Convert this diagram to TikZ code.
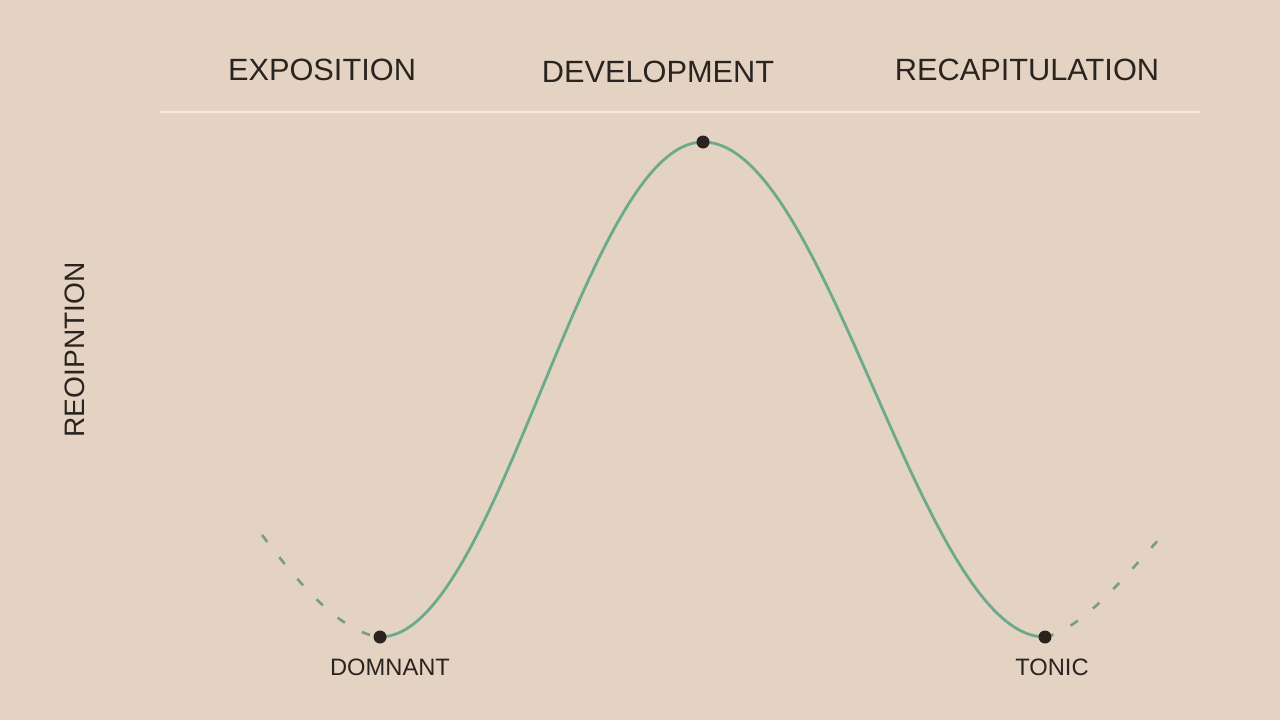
\documentclass[tikz,border=0pt]{standalone}
\usepackage{fontspec}
\setmainfont{Liberation Sans}
\definecolor{paper}{HTML}{E4D3C3}
\definecolor{ink}{HTML}{2A2420}
\definecolor{arc}{HTML}{6CAA8C}
\definecolor{tailgreen}{HTML}{7C9C8A}
\definecolor{rulecol}{HTML}{F6EAD8}

\begin{document}
\begin{tikzpicture}[x=0.02cm,y=-0.02cm,
	section/.style={text=ink,font=\fontsize{17.5}{20}\selectfont},
	side/.style={text=ink,font=\fontsize{16}{19}\selectfont,rotate=90},
	key/.style={text=ink,font=\fontsize{13.5}{16}\selectfont},
	dot/.style={circle,fill=ink,inner sep=0pt,minimum size=0.26cm},
	curve/.style={arc,line width=1.6pt},
	tail/.style={tailgreen,line width=1.5pt,dash pattern=on 5pt off 11pt}]
	\fill[paper] (0,0) rectangle (1280,720);
	\useasboundingbox (0,0) rectangle (1280,720);
	% section headings
	\node [section] (expo) at (322,70) {EXPOSITION};
	\node [section] (devel) at (658,72) {DEVELOPMENT};
	\node [section] (recap) at (1027,70) {RECAPITULATION};
	\coordinate (ruleL) at (160,112);
	\coordinate (ruleR) at (1200,112);
	\draw [rulecol, line width=1.7pt] (ruleL) -- (ruleR);
	\node [side] (axis) at (75,350) {REOIPNTION};
	% the arch
	\coordinate (d) at (380,637);
	\coordinate (p) at (703,142);
	\coordinate (t) at (1045,637);
	\coordinate (lend) at (262,535);
	\coordinate (rend) at (1163,535);
	\draw [curve] (d) .. controls +(118,0) and +(-118,0) .. (p)
		.. controls +(124,0) and +(-124,0) .. (t);
	\draw [tail] (lend) .. controls (300,585) and (340,632) .. (d);
	\draw [tail] (t) .. controls (1085,628) and (1130,570) .. (rend);
	\foreach \n/\at in {dom/d, peak/p, ton/t}
		\node [dot] (\n) at (\at) {};
	\node [key] (domlbl) at (390,667) {DOMNANT};
	\node [key] (tonlbl) at (1052,667) {TONIC};
\end{tikzpicture}
\end{document}
